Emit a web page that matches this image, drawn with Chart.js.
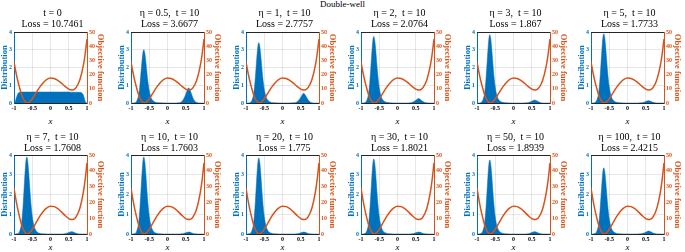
<!DOCTYPE html>
<html>
<head>
<meta charset="utf-8">
<script src="https://cdn.jsdelivr.net/npm/chart.js@4"></script>
<style>
  body { margin: 0; background: #fff; width: 685px; height: 252px; overflow: hidden; position: relative; }
  canvas { position: absolute; }
  #suptitle { position: absolute; left: 0; width: 685px; top: -1px; text-align: center;
              font: 9px "Liberation Serif", serif; line-height: 10px; color: #000; }
</style>
</head>
<body>
<div id="suptitle">Double-well</div>
<script>
// x axis ticks shared by every panel
var xTicks = [-1, -0.5, 0, 0.5, 1];

// objective function (right axis)
var objX = [-1, -0.95, -0.9, -0.85, -0.8, -0.75, -0.7, -0.65, -0.6, -0.55, -0.5, -0.4, -0.3, -0.2, -0.1, 0,
            0.1, 0.2, 0.3, 0.4, 0.5, 0.55, 0.6, 0.65, 0.7, 0.8, 0.9, 0.95, 1];
var objValues = [29, 22, 16, 11, 6.5, 3.2, 1, 0.1, 0.3, 1.4, 3, 7, 11, 14.3, 16.6, 17.6,
                 17.3, 16, 14, 11.7, 9.8, 9.3, 9.2, 9.6, 10.8, 16, 26.5, 34.5, 45];

// x positions where the distributions are sampled
var distX = [-1, -0.975, -0.95, -0.9, -0.85, -0.8, -0.775, -0.75, -0.725, -0.7, -0.675, -0.65, -0.625, -0.6,
             -0.575, -0.55, -0.525, -0.5, -0.45, -0.4, -0.35, -0.3, -0.2, 0, 0.2, 0.3, 0.35, 0.4, 0.45, 0.5,
             0.55, 0.575, 0.6, 0.65, 0.7, 0.75, 0.8, 0.9, 0.95, 0.975, 1];

// distributions (left axis), one per panel
var distT0 = [0, 0.03, 0.2, 0.5, 0.6, 0.62, 0.62, 0.62, 0.62, 0.62, 0.62, 0.62, 0.62, 0.62,
              0.62, 0.62, 0.62, 0.62, 0.62, 0.62, 0.62, 0.62, 0.62, 0.62, 0.62, 0.62, 0.62, 0.62, 0.62, 0.62,
              0.61, 0.61, 0.61, 0.61, 0.61, 0.6, 0.6, 0.45, 0.1, 0.01, 0];
var distEta0_5 = [0, 0, 0, 0.015, 0.09, 0.36, 0.66, 1.14, 1.74, 2.34, 2.82, 3.0, 2.85, 2.46,
                  1.95, 1.44, 1.02, 0.69, 0.3, 0.14, 0.06, 0.03, 0.01, 0, 0, 0.01, 0.03, 0.1, 0.26, 0.49,
                  0.77, 0.85, 0.81, 0.55, 0.27, 0.1, 0.03, 0, 0, 0, 0];
var distEta1 = [0, 0, 0, 0.02, 0.1, 0.41, 0.75, 1.29, 1.97, 2.65, 3.2, 3.4, 3.23, 2.79,
                2.21, 1.63, 1.16, 0.78, 0.34, 0.15, 0.07, 0.03, 0.01, 0, 0, 0.01, 0.02, 0.07, 0.17, 0.32,
                0.5, 0.55, 0.52, 0.36, 0.18, 0.07, 0.02, 0, 0, 0, 0];
var distEta2 = [0, 0, 0, 0.02, 0.11, 0.45, 0.83, 1.43, 2.18, 2.93, 3.53, 3.75, 3.56, 3.08,
                2.44, 1.8, 1.28, 0.86, 0.38, 0.17, 0.08, 0.04, 0.01, 0, 0, 0.005, 0.01, 0.03, 0.08, 0.15,
                0.23, 0.25, 0.24, 0.16, 0.08, 0.03, 0.01, 0, 0, 0, 0];
var distEta3 = [0, 0, 0, 0.02, 0.12, 0.46, 0.85, 1.46, 2.23, 3.0, 3.62, 3.85, 3.66, 3.16,
                2.5, 1.85, 1.31, 0.89, 0.39, 0.17, 0.08, 0.04, 0.01, 0, 0, 0.005, 0.01, 0.02, 0.05, 0.1,
                0.15, 0.17, 0.16, 0.11, 0.05, 0.02, 0.005, 0, 0, 0, 0];
var distEta5 = [0, 0, 0, 0.02, 0.12, 0.47, 0.86, 1.48, 2.26, 3.04, 3.67, 3.9, 3.71, 3.2,
                2.54, 1.87, 1.33, 0.9, 0.39, 0.18, 0.08, 0.04, 0.01, 0, 0, 0, 0.01, 0.02, 0.04, 0.08,
                0.12, 0.13, 0.12, 0.08, 0.04, 0.02, 0.005, 0, 0, 0, 0];
var distEta7 = [0, 0, 0, 0.02, 0.12, 0.47, 0.86, 1.48, 2.26, 3.04, 3.67, 3.9, 3.71, 3.2,
                2.54, 1.87, 1.33, 0.9, 0.39, 0.18, 0.08, 0.04, 0.01, 0, 0, 0, 0.005, 0.015, 0.04, 0.07,
                0.11, 0.12, 0.11, 0.08, 0.04, 0.015, 0.005, 0, 0, 0, 0];
var distEta10 = [0, 0, 0, 0.02, 0.12, 0.47, 0.86, 1.48, 2.26, 3.04, 3.67, 3.9, 3.71, 3.2,
                 2.54, 1.87, 1.33, 0.9, 0.39, 0.18, 0.08, 0.04, 0.01, 0, 0, 0, 0.005, 0.01, 0.03, 0.06,
                 0.09, 0.1, 0.095, 0.065, 0.03, 0.01, 0.004, 0, 0, 0, 0];
var distEta20 = [0, 0, 0, 0.02, 0.12, 0.46, 0.85, 1.46, 2.23, 3.0, 3.62, 3.85, 3.66, 3.16,
                 2.5, 1.85, 1.31, 0.89, 0.39, 0.17, 0.08, 0.04, 0.01, 0, 0, 0, 0.005, 0.01, 0.03, 0.06,
                 0.09, 0.1, 0.095, 0.065, 0.03, 0.01, 0.004, 0, 0, 0, 0];
var distEta30 = [0, 0, 0, 0.02, 0.11, 0.46, 0.84, 1.44, 2.2, 2.96, 3.57, 3.8, 3.61, 3.12,
                 2.47, 1.82, 1.29, 0.87, 0.38, 0.17, 0.08, 0.04, 0.01, 0, 0, 0, 0.005, 0.01, 0.03, 0.06,
                 0.09, 0.1, 0.095, 0.065, 0.03, 0.01, 0.004, 0, 0, 0, 0];
var distEta50 = [0, 0, 0, 0.02, 0.11, 0.45, 0.83, 1.43, 2.18, 2.93, 3.53, 3.75, 3.56, 3.08,
                 2.44, 1.8, 1.28, 0.86, 0.38, 0.17, 0.08, 0.04, 0.01, 0, 0, 0, 0.005, 0.015, 0.04, 0.07,
                 0.11, 0.12, 0.11, 0.08, 0.04, 0.015, 0.005, 0, 0, 0, 0];
var distEta100 = [0, 0, 0, 0.02, 0.1, 0.4, 0.74, 1.27, 1.94, 2.61, 3.15, 3.35, 3.18, 2.75,
                  2.18, 1.61, 1.14, 0.77, 0.34, 0.15, 0.07, 0.03, 0.01, 0, 0, 0.005, 0.01, 0.02, 0.05, 0.09,
                  0.135, 0.15, 0.14, 0.1, 0.05, 0.02, 0.005, 0, 0, 0, 0];

// panel titles
var panelTitles = ['t = 0', 'η = 0.5,  t = 10', 'η = 1,  t = 10', 'η = 2,  t = 10', 'η = 3,  t = 10', 'η = 5,  t = 10',
                   'η = 7,  t = 10', 'η = 10,  t = 10', 'η = 20,  t = 10', 'η = 30,  t = 10', 'η = 50,  t = 10', 'η = 100,  t = 10'];
var lossValues = ['10.7461', '3.6677', '2.7757', '2.0764', '1.867', '1.7733',
                  '1.7608', '1.7603', '1.775', '1.8021', '1.8939', '2.4215'];

var panelDists = [distT0, distEta0_5, distEta1, distEta2, distEta3, distEta5,
                  distEta7, distEta10, distEta20, distEta30, distEta50, distEta100];

var blue = '#0072BD';
var orange = '#D95319';
var serif = '"Liberation Serif", "DejaVu Serif", serif';

// plot-area left edges of the 6 columns, and row layout
var colLefts = [14, 131, 246, 361, 477, 591];
var rowTops = [0, 125];
var titlePad = [{ top: 7.5, bottom: 2.5 }, { top: 6.5, bottom: 1.5 }];
var xAxisHeight = [26, 20];
var xTitlePad = [1.5, 0.5];

// MATLAB-like black top edge of the box
var topEdge = {
  id: 'topEdge',
  afterDraw: function (chart) {
    var a = chart.chartArea, ctx = chart.ctx;
    ctx.save();
    ctx.strokeStyle = '#262626';
    ctx.lineWidth = 1;
    ctx.beginPath();
    ctx.moveTo(a.left, a.top + 0.5);
    ctx.lineTo(a.right, a.top + 0.5);
    ctx.stroke();
    ctx.restore();
  }
};

function makePanel(i) {
  var row = Math.floor(i / 6), col = i % 6;
  var canvas = document.createElement('canvas');
  canvas.width = 105;
  canvas.height = 129;
  canvas.style.left = (colLefts[col] - 14) + 'px';
  canvas.style.top = rowTops[row] + 'px';
  document.body.appendChild(canvas);

  var dist = panelDists[i];

  new Chart(canvas, {
    type: 'line',
    data: {
      datasets: [{
        label: 'Objective function',
        data: objX.map(function (x, k) { return { x: x, y: objValues[k] }; }),
        yAxisID: 'y1',
        borderColor: orange,
        borderWidth: 1.5,
        pointRadius: 0,
        fill: false,
        cubicInterpolationMode: 'monotone',
        order: 0
      }, {
        label: 'Distribution',
        data: distX.map(function (x, k) { return { x: x, y: dist[k] }; }),
        yAxisID: 'y',
        borderColor: blue,
        backgroundColor: blue,
        borderWidth: 0.5,
        pointRadius: 0,
        fill: 'origin',
        cubicInterpolationMode: 'monotone',
        order: 1
      }]
    },
    options: {
      responsive: false,
      animation: false,
      devicePixelRatio: 1,
      events: [],
      plugins: {
        legend: { display: false },
        tooltip: { enabled: false },
        title: {
          display: true,
          text: [panelTitles[i], 'Loss = ' + lossValues[i]],
          color: '#000',
          font: { family: serif, size: 10, weight: 'normal', lineHeight: 1.1 },
          padding: titlePad[row]
        }
      },
      scales: {
        x: {
          type: 'linear',
          min: -1,
          max: 1,
          afterBuildTicks: function (s) { s.ticks = xTicks.map(function (v) { return { value: v }; }); },
          ticks: { color: '#000', font: { family: serif, size: 6, weight: 'bold' }, padding: 2, maxRotation: 0,
                   callback: function (v) { return String(v); } },
          grid: { color: 'rgba(0,0,0,0.12)', drawTicks: false, lineWidth: 0.8 },
          border: { color: '#262626', width: 1 },
          title: { display: true, text: 'x', color: '#000',
                   font: { family: serif, size: 9, style: 'italic' }, padding: { top: 0, bottom: xTitlePad[row] } },
          afterFit: function (s) { s.height = xAxisHeight[row]; }
        },
        y: {
          position: 'left',
          min: 0,
          max: 4,
          ticks: { stepSize: 1, color: blue, font: { family: serif, size: 6, weight: 'bold' }, padding: 2 },
          grid: { color: 'rgba(0,0,0,0.12)', drawTicks: false, lineWidth: 0.8 },
          border: { color: blue, width: 1 },
          title: { display: true, text: 'Distribution', color: blue,
                   font: { family: serif, size: 8.5, weight: 'bold' }, padding: { top: 0, bottom: 0 } },
          afterFit: function (s) { s.width = 14; }
        },
        y1: {
          position: 'right',
          min: 0,
          max: 50,
          ticks: { stepSize: 10, color: orange, font: { family: serif, size: 6, weight: 'bold' }, padding: 2 },
          grid: { display: false, drawTicks: false },
          border: { color: orange, width: 1 },
          title: { display: true, text: 'Objective function', color: orange,
                   font: { family: serif, size: 8.5, weight: 'bold' }, padding: { top: 0, bottom: 0 } },
          afterFit: function (s) { s.width = 18; }
        }
      }
    },
    plugins: [topEdge]
  });
}

for (var i = 0; i < 12; i++) {
  makePanel(i);
}
</script>
</body>
</html>
